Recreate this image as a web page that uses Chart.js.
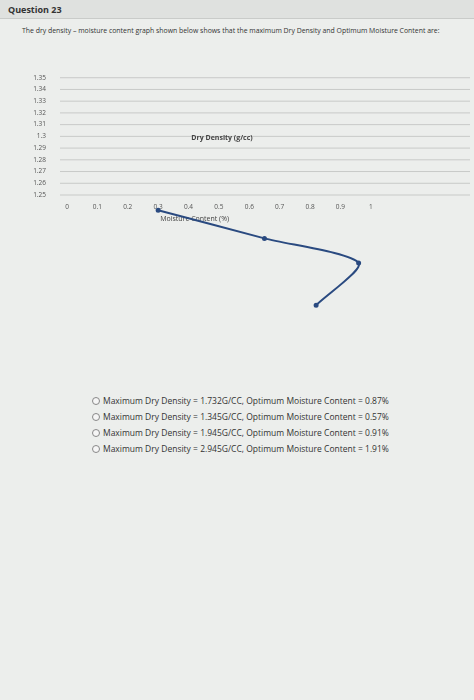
<!DOCTYPE html>
<html>
<head>
<meta charset="utf-8">
<script src="https://cdn.jsdelivr.net/npm/chart.js@4"></script>
<style>
  body { margin: 0; width: 474px; height: 700px; background: #eceeec; font-family: "Open Sans", "Liberation Sans", sans-serif; position: relative; overflow: hidden; }
  .head { position: absolute; left: 0; top: 0; width: 474px; height: 18px; background: #dfe1df; border-bottom: 1px solid #c9cbc9; }
  .head b { position: absolute; left: 8px; top: 3px; font-size: 9px; color: #333; }
  .q { position: absolute; left: 22px; top: 26px; font-size: 6.9px; color: #333; white-space: nowrap; }
  #wrap { position: absolute; left: 0; top: 60px; width: 474px; height: 270px; }
  .ans { position: absolute; left: 92px; font-size: 8.5px; color: #333; }
  .ans span { display: inline-block; width: 6px; height: 6px; border: 1px solid #888; border-radius: 50%; margin-right: 3px; vertical-align: -1px; background: #f5f5f5; }
</style>
</head>
<body>
<div class="head"><b>Question 23</b></div>
<div class="q">The dry density – moisture content graph shown below shows that the maximum Dry Density and Optimum Moisture Content are:</div>
<div id="wrap"><canvas id="c"></canvas></div>
<div class="ans" style="top:395px"><span></span>Maximum Dry Density = 1.732G/CC, Optimum Moisture Content = 0.87%</div>
<div class="ans" style="top:411px"><span></span>Maximum Dry Density = 1.345G/CC, Optimum Moisture Content = 0.57%</div>
<div class="ans" style="top:427px"><span></span>Maximum Dry Density = 1.945G/CC, Optimum Moisture Content = 0.91%</div>
<div class="ans" style="top:443px"><span></span>Maximum Dry Density = 2.945G/CC, Optimum Moisture Content = 1.91%</div>
<script>
// ticks as shown in the picture
const yTicks = [1.25, 1.26, 1.27, 1.28, 1.29, 1.3, 1.31, 1.32, 1.33, 1.34, 1.35];
const yTickLabels = ['1.25', '1.26', '1.27', '1.28', '1.29', '1.3', '1.31', '1.32', '1.33', '1.34', '1.35'];
const xTicks = [0, 0.1, 0.2, 0.3, 0.4, 0.5, 0.6, 0.7, 0.8, 0.9, 1];
const xTickLabels = ['0', '0.1', '0.2', '0.3', '0.4', '0.5', '0.6', '0.7', '0.8', '0.9', '1'];
// curve as it appears in the photo
const curveX = [0.30, 0.65, 0.96, 0.82];
const curveY = [1.237, 1.213, 1.192, 1.156];

const axesPlugin = {
    id: 'axesPlugin',
    beforeDatasetsDraw(chart) {
        const { ctx, scales: { x, y } } = chart;
        ctx.save();
        ctx.font = '6.5px "Open Sans", sans-serif';
        ctx.fillStyle = '#555';
        yTicks.forEach((v, i) => {
            const py = y.getPixelForValue(v);
            ctx.strokeStyle = '#c8cac8';
            ctx.lineWidth = 1;
            ctx.beginPath();
            ctx.moveTo(60, py);
            ctx.lineTo(470, py);
            ctx.stroke();
            ctx.textAlign = 'right';
            ctx.textBaseline = 'middle';
            ctx.fillText(yTickLabels[i], 46, py);
        });
        const ly = y.getPixelForValue(1.24);
        xTicks.forEach((v, i) => {
            ctx.textAlign = 'center';
            ctx.fillText(xTickLabels[i], x.getPixelForValue(v), ly);
        });
        ctx.font = 'bold 7px "Open Sans", sans-serif';
        ctx.fillStyle = '#444';
        ctx.fillText('Dry Density (g/cc)', 222, y.getPixelForValue(1.299));
        ctx.font = '7px "Open Sans", sans-serif';
        ctx.fillText('Moisture Content (%)', x.getPixelForValue(0.42), y.getPixelForValue(1.2295));
        ctx.restore();
    }
};

new Chart(document.getElementById('c'), {
    type: 'scatter',
    data: {
        datasets: [{
            data: curveX.map((v, i) => ({ x: v, y: curveY[i] })),
            showLine: true,
            borderColor: '#2a4a80',
            backgroundColor: '#2a4a80',
            borderWidth: 2,
            pointRadius: 1.5,
            tension: 0.25
        }]
    },
    options: {
        responsive: true,
        maintainAspectRatio: false,
        animation: false,
        layout: { padding: { left: 67, right: 3, top: 0, bottom: 6 } },
        plugins: { legend: { display: false }, tooltip: { enabled: false } },
        scales: {
            x: { type: 'linear', min: 0, max: 1.32, display: false },
            y: { type: 'linear', min: 1.14, max: 1.36, display: false }
        }
    },
    plugins: [axesPlugin]
});
</script>
</body>
</html>
